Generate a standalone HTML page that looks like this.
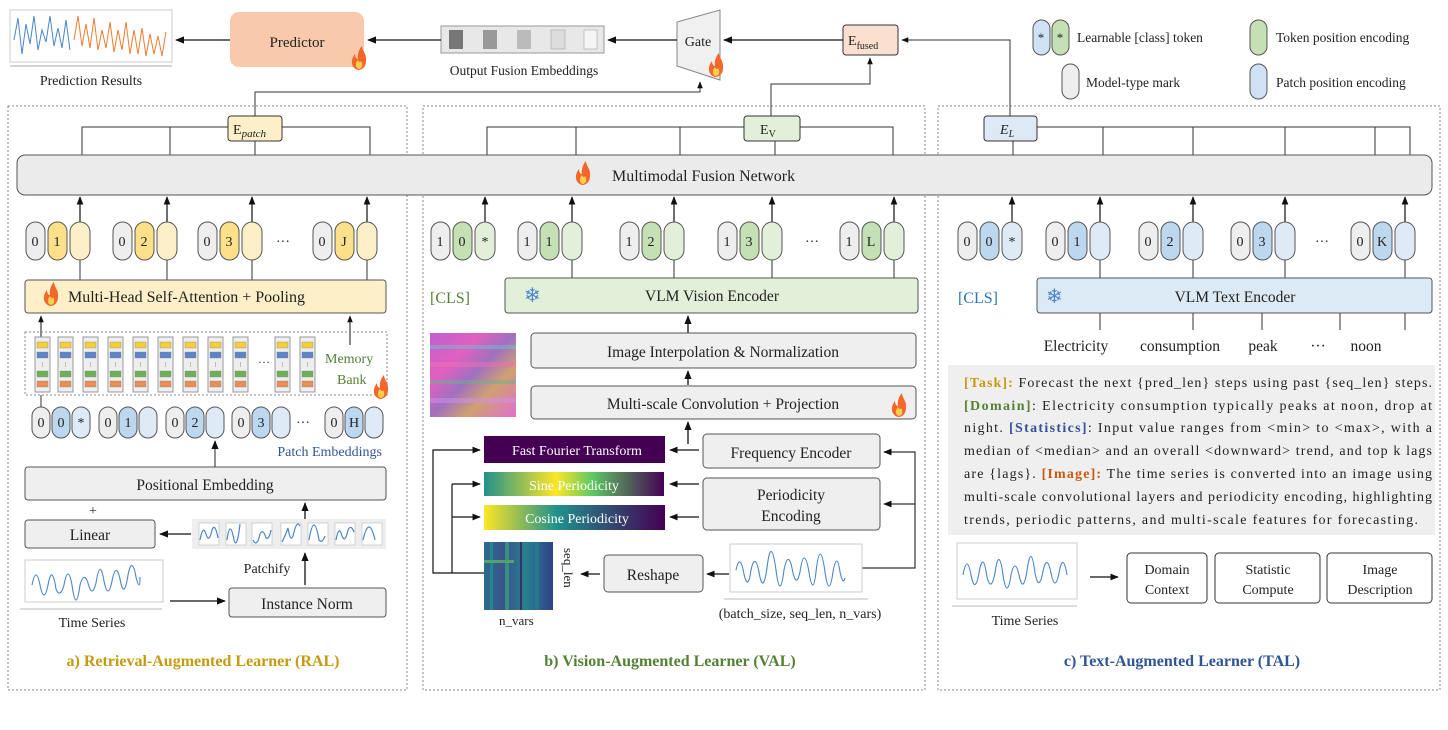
<!DOCTYPE html>
<html><head><meta charset="utf-8"><style>
html,body{margin:0;padding:0;background:#fff}
svg text{font-family:"Liberation Serif",serif;fill:#222}
</style></head><body>
<svg width="1448" height="725" viewBox="0 0 1448 725" xmlns="http://www.w3.org/2000/svg">
<defs>
<marker id="ar" viewBox="0 0 10 10" refX="9" refY="5" markerWidth="7" markerHeight="7" orient="auto-start-reverse"><path d="M0,1 L10,5 L0,9 z" fill="#111"/></marker>
<linearGradient id="sine" x1="0" x2="1"><stop offset="0" stop-color="#21918c"/><stop offset="0.4" stop-color="#fde725"/><stop offset="0.6" stop-color="#5ec962"/><stop offset="1" stop-color="#440154"/></linearGradient>
<linearGradient id="cos" x1="0" x2="1"><stop offset="0" stop-color="#fde725"/><stop offset="0.4" stop-color="#21918c"/><stop offset="1" stop-color="#440154"/></linearGradient>
<linearGradient id="img" x1="0" y1="0" x2="1" y2="1"><stop offset="0" stop-color="#c060d0"/><stop offset="0.3" stop-color="#e060c0"/><stop offset="0.5" stop-color="#a070c0"/><stop offset="0.7" stop-color="#d0a070"/><stop offset="1" stop-color="#e070d0"/></linearGradient>
<linearGradient id="heat" x1="0" x2="1"><stop offset="0" stop-color="#2a6a8e"/><stop offset="0.3" stop-color="#3b528b"/><stop offset="0.6" stop-color="#26828e"/><stop offset="1" stop-color="#31408a"/></linearGradient>
<g id="flame"><path d="M0,14 C-7,12 -8,4 -3,-2 C-3,2 -1,3 0,3 C-1,-3 2,-8 4,-10 C4,-5 9,-2 8,5 C8,11 4,14 0,14 z" fill="#f4662a"/><path d="M1,13 C-3,12 -3,7 0,4 C1,7 3,6 3,5 C5,8 5,12 1,13 z" fill="#fcd04c"/></g>
<g id="col"><rect x="0" y="0" width="15" height="55" fill="#eee" stroke="#999"/><rect x="2" y="5" width="11" height="6" fill="#f6cd3a" stroke="#888" stroke-width=".4"/><rect x="2" y="15" width="11" height="6" fill="#5b84c8" stroke="#888" stroke-width=".4"/><line x1="7.5" y1="25" x2="7.5" y2="30" stroke="#bbb"/><rect x="2" y="34" width="11" height="6" fill="#6faf55" stroke="#888" stroke-width=".4"/><rect x="2" y="44" width="11" height="6" fill="#ec8d55" stroke="#888" stroke-width=".4"/></g>
</defs>

<g fill="none" stroke="#888" stroke-dasharray="2,2" stroke-width="1">
<rect x="8" y="106" width="399" height="584"/>
<rect x="423" y="106" width="502" height="584"/>
<rect x="938" y="106" width="502" height="584"/>
</g>

<rect x="10" y="10" width="162" height="52" fill="#fff" stroke="#ccc"/>
<path d="M14,40 l4,-22 l4,36 l4,-30 l4,20 l4,-28 l4,34 l4,-20 l4,12 l4,-26 l4,30 l4,-18 l4,20 l4,-28 l4,30" fill="none" stroke="#4a86c8" stroke-width="1"/>
<path d="M74,40 l4,-24 l4,30 l4,-22 l4,24 l4,-30 l4,32 l4,-20 l4,18 l4,-26 l4,30 l4,-22 l4,20 l4,-28 l4,32 l4,-24 l4,24 l4,-26 l4,28 l4,-22 l4,20 l4,-18 l4,20 l4,-24" fill="none" stroke="#ed7d31" stroke-width="1"/>
<line x1="10" y1="66" x2="172" y2="66" stroke="#aaa"/>
<text x="91" y="85" font-size="14" text-anchor="middle">Prediction Results</text>
<rect x="230" y="12" width="134" height="55" rx="9" fill="#f8c9aa"/>
<text x="297" y="47" font-size="15" text-anchor="middle">Predictor</text>
<use href="#flame" x="358" y="56"/>
<line x1="230" y1="40" x2="176" y2="40" stroke="#111" stroke-width="1.3" marker-end="url(#ar)"/>
<rect x="441" y="26" width="163" height="27" fill="#e8e8e8" stroke="#999"/>
<rect x="449" y="30" width="14" height="19" fill="#777"/><rect x="483" y="30" width="14" height="19" fill="#999"/><rect x="517" y="30" width="14" height="19" fill="#bbb"/><rect x="551" y="30" width="14" height="19" fill="#ddd" stroke="#999" stroke-width=".5"/><rect x="584" y="30" width="13" height="19" fill="#f5f5f5" stroke="#999" stroke-width=".5"/>
<text x="524" y="75" font-size="13.5" text-anchor="middle">Output Fusion Embeddings</text>
<line x1="441" y1="40" x2="368" y2="40" stroke="#111" stroke-width="1.3" marker-end="url(#ar)"/>
<path d="M677,22 L720,10 L720,80 L677,66 z" fill="#f0f0f0" stroke="#888"/>
<text x="698" y="46" font-size="14" text-anchor="middle">Gate</text>
<use href="#flame" x="715" y="63"/>
<line x1="677" y1="40" x2="608" y2="40" stroke="#111" stroke-width="1.3" marker-end="url(#ar)"/>
<rect x="843" y="25" width="55" height="30" rx="3" fill="#fbe0d0" stroke="#333"/>
<text x="848" y="45" font-size="14">E<tspan font-size="10" dy="4">fused</tspan></text>
<line x1="843" y1="40" x2="724" y2="40" stroke="#111" stroke-width="1.3" marker-end="url(#ar)"/>
<path d="M1010,116 L1010,40 L902,40" fill="none" stroke="#333" marker-end="url(#ar)"/>
<path d="M771,116 L771,84 L870,84 L870,58" fill="none" stroke="#333" marker-end="url(#ar)"/>
<path d="M255,116 L255,92 L700,92 L700,82" fill="none" stroke="#333" marker-end="url(#ar)"/>

<rect x="1033" y="20" width="17" height="35" rx="8.5" fill="#cfe2f3" stroke="#555"/><text x="1041" y="42" font-size="13" text-anchor="middle">*</text>
<rect x="1052" y="20" width="17" height="35" rx="8.5" fill="#c5e0b4" stroke="#555"/><text x="1060" y="42" font-size="13" text-anchor="middle">*</text>
<text x="1077" y="42" font-size="13.5">Learnable [class] token</text>
<rect x="1250" y="20" width="17" height="35" rx="8.5" fill="#c5e0b4" stroke="#555"/>
<text x="1276" y="42" font-size="13.5">Token position encoding</text>
<rect x="1062" y="64" width="17" height="35" rx="8.5" fill="#eee" stroke="#555"/>
<text x="1086" y="87" font-size="13.5">Model-type mark</text>
<rect x="1250" y="64" width="17" height="35" rx="8.5" fill="#cfe2f3" stroke="#555"/>
<text x="1276" y="87" font-size="13.5">Patch position encoding</text>

<g stroke="#333" fill="none" stroke-width="1">
<path d="M82,155 V127 H370 V155 M170,127 V155 M255,127 V155"/>
<path d="M487,155 V127 H893 V155 M576,127 V155 M680,127 V155 M775,127 V155"/>
<path d="M1013,155 V127 H1410 V155 M1103,127 V155 M1193,127 V155 M1285,127 V155 M1375,127 V155"/>
</g>
<rect x="228" y="116" width="54" height="25" rx="3" fill="#fdf0c8" stroke="#333"/>
<text x="233" y="134" font-size="14">E<tspan font-size="11" font-style="italic" dy="3">patch</tspan></text>
<rect x="744" y="116" width="56" height="25" rx="3" fill="#e2efd9" stroke="#333"/>
<text x="760" y="134" font-size="14">E<tspan font-size="10" dy="3">V</tspan></text>
<rect x="984" y="116" width="53" height="25" rx="3" fill="#dde9f5" stroke="#333"/>
<text x="1000" y="134" font-size="14" font-style="italic">E<tspan font-size="10" dy="3">L</tspan></text>

<rect x="17" y="155" width="1415" height="40" rx="8" fill="#ebebeb" stroke="#555"/>
<use href="#flame" x="582" y="171"/>
<text x="612" y="181" font-size="16">Multimodal Fusion Network</text>

<g stroke="#111" stroke-width="1.2" marker-end="url(#ar)">
<line x1="80" y1="222" x2="80" y2="197"/><line x1="167" y1="222" x2="167" y2="197"/><line x1="252" y1="222" x2="252" y2="197"/><line x1="367" y1="222" x2="367" y2="197"/>
<line x1="485" y1="222" x2="485" y2="197"/><line x1="572" y1="222" x2="572" y2="197"/><line x1="674" y1="222" x2="674" y2="197"/><line x1="772" y1="222" x2="772" y2="197"/><line x1="894" y1="222" x2="894" y2="197"/>
<line x1="1012" y1="222" x2="1012" y2="197"/><line x1="1100" y1="222" x2="1100" y2="197"/><line x1="1193" y1="222" x2="1193" y2="197"/><line x1="1285" y1="222" x2="1285" y2="197"/><line x1="1405" y1="222" x2="1405" y2="197"/>
</g>
<g stroke="#333">
<line x1="80" y1="260" x2="80" y2="280"/><line x1="167" y1="260" x2="167" y2="280"/><line x1="252" y1="260" x2="252" y2="280"/><line x1="367" y1="260" x2="367" y2="280"/>
<line x1="572" y1="260" x2="572" y2="278"/><line x1="674" y1="260" x2="674" y2="278"/><line x1="772" y1="260" x2="772" y2="278"/><line x1="894" y1="260" x2="894" y2="278"/>
<line x1="1100" y1="260" x2="1100" y2="278"/><line x1="1193" y1="260" x2="1193" y2="278"/><line x1="1285" y1="260" x2="1285" y2="278"/><line x1="1405" y1="260" x2="1405" y2="278"/>
</g>

<g stroke="#555" font-size="14">
<g fill="#eee"><rect x="26" y="222" width="19" height="38" rx="9.5"/><rect x="113" y="222" width="19" height="38" rx="9.5"/><rect x="198" y="222" width="19" height="38" rx="9.5"/><rect x="313" y="222" width="19" height="38" rx="9.5"/></g>
<g fill="#fde08a"><rect x="48" y="222" width="19" height="38" rx="9.5"/><rect x="135" y="222" width="19" height="38" rx="9.5"/><rect x="220" y="222" width="19" height="38" rx="9.5"/><rect x="335" y="222" width="19" height="38" rx="9.5"/></g>
<g fill="#fdf0c8"><rect x="70" y="222" width="20" height="38" rx="10"/><rect x="157" y="222" width="20" height="38" rx="10"/><rect x="242" y="222" width="20" height="38" rx="10"/><rect x="357" y="222" width="20" height="38" rx="10"/></g>
<g fill="#eee"><rect x="431" y="222" width="19" height="38" rx="9.5"/><rect x="518" y="222" width="19" height="38" rx="9.5"/><rect x="620" y="222" width="19" height="38" rx="9.5"/><rect x="718" y="222" width="19" height="38" rx="9.5"/><rect x="840" y="222" width="19" height="38" rx="9.5"/></g>
<g fill="#c5e0b4"><rect x="453" y="222" width="19" height="38" rx="9.5"/><rect x="540" y="222" width="19" height="38" rx="9.5"/><rect x="642" y="222" width="19" height="38" rx="9.5"/><rect x="740" y="222" width="19" height="38" rx="9.5"/><rect x="862" y="222" width="19" height="38" rx="9.5"/></g>
<g fill="#e2efd9"><rect x="475" y="222" width="20" height="38" rx="10"/><rect x="562" y="222" width="20" height="38" rx="10"/><rect x="664" y="222" width="20" height="38" rx="10"/><rect x="762" y="222" width="20" height="38" rx="10"/><rect x="884" y="222" width="20" height="38" rx="10"/></g>
<g fill="#eee"><rect x="958" y="222" width="19" height="38" rx="9.5"/><rect x="1046" y="222" width="19" height="38" rx="9.5"/><rect x="1139" y="222" width="19" height="38" rx="9.5"/><rect x="1231" y="222" width="19" height="38" rx="9.5"/><rect x="1351" y="222" width="19" height="38" rx="9.5"/></g>
<g fill="#bdd7ee"><rect x="980" y="222" width="19" height="38" rx="9.5"/><rect x="1068" y="222" width="19" height="38" rx="9.5"/><rect x="1161" y="222" width="19" height="38" rx="9.5"/><rect x="1253" y="222" width="19" height="38" rx="9.5"/><rect x="1373" y="222" width="19" height="38" rx="9.5"/></g>
<g fill="#deebf7"><rect x="1002" y="222" width="20" height="38" rx="10"/><rect x="1090" y="222" width="20" height="38" rx="10"/><rect x="1183" y="222" width="20" height="38" rx="10"/><rect x="1275" y="222" width="20" height="38" rx="10"/><rect x="1395" y="222" width="20" height="38" rx="10"/></g>
</g>
<g font-size="14" text-anchor="middle">
<text x="35" y="246">0</text><text x="57" y="246">1</text><text x="122" y="246">0</text><text x="144" y="246">2</text><text x="207" y="246">0</text><text x="229" y="246">3</text><text x="283" y="246">···</text><text x="322" y="246">0</text><text x="344" y="246">J</text>
<text x="440" y="246">1</text><text x="462" y="246">0</text><text x="485" y="246">*</text><text x="527" y="246">1</text><text x="549" y="246">1</text><text x="629" y="246">1</text><text x="651" y="246">2</text><text x="727" y="246">1</text><text x="749" y="246">3</text><text x="812" y="246">···</text><text x="849" y="246">1</text><text x="871" y="246">L</text>
<text x="967" y="246">0</text><text x="989" y="246">0</text><text x="1012" y="246">*</text><text x="1055" y="246">0</text><text x="1077" y="246">1</text><text x="1148" y="246">0</text><text x="1170" y="246">2</text><text x="1240" y="246">0</text><text x="1262" y="246">3</text><text x="1322" y="246">···</text><text x="1360" y="246">0</text><text x="1382" y="246">K</text>
</g>

<rect x="25" y="280" width="361" height="33" rx="3" fill="#fdf0c8" stroke="#555"/>
<use href="#flame" x="50" y="292"/>
<text x="68" y="302" font-size="16">Multi-Head Self-Attention + Pooling</text>
<line x1="41" y1="338" x2="41" y2="316" stroke="#111" marker-end="url(#ar)"/>
<line x1="350" y1="345" x2="350" y2="316" stroke="#111" marker-end="url(#ar)"/>
<rect x="25" y="332" width="362" height="63" fill="none" stroke="#888" stroke-dasharray="2,2"/>
<use href="#col" x="35" y="337"/><use href="#col" x="58" y="337"/><use href="#col" x="83" y="337"/><use href="#col" x="108" y="337"/><use href="#col" x="133" y="337"/><use href="#col" x="158" y="337"/><use href="#col" x="183" y="337"/><use href="#col" x="208" y="337"/><use href="#col" x="233" y="337"/><use href="#col" x="275" y="337"/><use href="#col" x="300" y="337"/>
<text x="258" y="366" font-size="12">···</text>
<text x="325" y="363" font-size="14" style="fill:#548235">Memory</text>
<text x="337" y="384" font-size="14" style="fill:#548235">Bank</text>
<use href="#flame" x="380" y="385"/>
<line x1="41" y1="395" x2="41" y2="408" stroke="#333"/>
<g stroke="#555">
<g fill="#eee"><rect x="32" y="407" width="18" height="31" rx="9"/><rect x="99" y="407" width="18" height="31" rx="9"/><rect x="166" y="407" width="18" height="31" rx="9"/><rect x="232" y="407" width="18" height="31" rx="9"/><rect x="325" y="407" width="18" height="31" rx="9"/></g>
<g fill="#bdd7ee"><rect x="52" y="407" width="18" height="31" rx="9"/><rect x="119" y="407" width="18" height="31" rx="9"/><rect x="186" y="407" width="18" height="31" rx="9"/><rect x="252" y="407" width="18" height="31" rx="9"/><rect x="345" y="407" width="18" height="31" rx="9"/></g>
<g fill="#deebf7"><rect x="72" y="407" width="18" height="31" rx="9"/><rect x="139" y="407" width="18" height="31" rx="9"/><rect x="206" y="407" width="18" height="31" rx="9"/><rect x="272" y="407" width="18" height="31" rx="9"/><rect x="365" y="407" width="18" height="31" rx="9"/></g>
</g>
<g font-size="14" text-anchor="middle">
<text x="41" y="427">0</text><text x="61" y="427">0</text><text x="81" y="427">*</text><text x="108" y="427">0</text><text x="128" y="427">1</text><text x="175" y="427">0</text><text x="195" y="427">2</text><text x="241" y="427">0</text><text x="261" y="427">3</text><text x="303" y="427">···</text><text x="334" y="427">0</text><text x="354" y="427">H</text>
</g>
<text x="382" y="456" font-size="14" text-anchor="end" style="fill:#2f5597">Patch Embeddings</text>
<line x1="215" y1="467" x2="215" y2="441" stroke="#555" stroke-width="1.3" marker-end="url(#ar)"/>
<rect x="25" y="467" width="361" height="33" rx="3" fill="#efefef" stroke="#555"/>
<text x="205" y="490" font-size="15.5" text-anchor="middle">Positional Embedding</text>
<text x="93" y="515" font-size="14" text-anchor="middle">+</text>
<rect x="25" y="520" width="130" height="28" rx="3" fill="#efefef" stroke="#555"/>
<text x="90" y="540" font-size="15.5" text-anchor="middle">Linear</text>
<rect x="192" y="519" width="194" height="30" fill="#eee"/>
<g fill="#fff" stroke="#bbb" stroke-width=".6">
<rect x="199" y="523" width="20" height="22"/><rect x="226" y="523" width="20" height="22"/><rect x="252" y="523" width="20" height="22"/><rect x="281" y="523" width="20" height="22"/><rect x="308" y="523" width="20" height="22"/><rect x="335" y="523" width="20" height="22"/><rect x="362" y="523" width="20" height="22"/>
</g>
<g fill="none" stroke="#4a86c8" stroke-width="1.2">
<path d="M200,540 q3,-16 6,-6 q3,10 6,-4 q3,-8 6,8"/><path d="M227,540 q3,-22 7,0 q3,10 6,-16"/><path d="M253,540 q4,8 7,-6 q3,-6 6,4 q3,2 5,-8"/><path d="M282,542 q4,-8 6,-14 q3,18 6,4 q3,-12 6,-6"/><path d="M309,540 q5,-30 10,0 q3,4 6,-4"/><path d="M336,540 q3,-16 6,-4 q3,8 6,-6 q3,-6 6,2"/><path d="M363,540 q6,-26 12,0"/>
</g>
<line x1="191" y1="534" x2="160" y2="534" stroke="#111" stroke-width="1.3" marker-end="url(#ar)"/>
<line x1="305" y1="519" x2="305" y2="503" stroke="#111" stroke-width="1.3" marker-end="url(#ar)"/>
<text x="267" y="573" font-size="14" text-anchor="middle">Patchify</text>
<line x1="305" y1="585" x2="305" y2="553" stroke="#111" stroke-width="1.3" marker-end="url(#ar)"/>
<rect x="25" y="560" width="138" height="42" fill="#fff" stroke="#ccc"/>
<path d="M32,585 q4,-20 8,0 t8,0 q4,-22 8,4 q4,10 8,-4 q4,-22 8,0 q4,30 8,0 q4,-14 8,-2 q4,16 8,0 q4,-26 8,-2 q4,20 8,0 q4,-20 8,-2 q4,22 8,-4 q4,-20 8,2 q4,16 4,0" fill="none" stroke="#4a86c8" stroke-width="1.1"/>
<line x1="20" y1="609" x2="162" y2="609" stroke="#bbb"/>
<text x="92" y="627" font-size="14" text-anchor="middle">Time Series</text>
<line x1="170" y1="601" x2="225" y2="601" stroke="#111" stroke-width="1.3" marker-end="url(#ar)"/>
<rect x="229" y="588" width="157" height="29" rx="3" fill="#efefef" stroke="#555"/>
<text x="307" y="609" font-size="15.5" text-anchor="middle">Instance Norm</text>
<text x="203" y="666" font-size="16" font-weight="bold" text-anchor="middle" style="fill:#c59a10">a) Retrieval-Augmented Learner (RAL)</text>

<text x="430" y="303" font-size="16" style="fill:#548235">[CLS]</text>
<rect x="505" y="278" width="413" height="35" rx="3" fill="#e2efd9" stroke="#555"/>
<text x="524" y="302" font-size="20" style="fill:#4a86c8">❄</text>
<text x="712" y="301" font-size="15.5" text-anchor="middle">VLM Vision Encoder</text>
<line x1="688" y1="333" x2="688" y2="316" stroke="#111" stroke-width="1.3" marker-end="url(#ar)"/>
<rect x="430" y="333" width="86" height="84" fill="url(#img)"/>
<g opacity="0.5"><rect x="430" y="345" width="86" height="4" fill="#6ec0d0"/><rect x="430" y="362" width="86" height="5" fill="#f070b0"/><rect x="430" y="380" width="86" height="4" fill="#70b090"/><rect x="430" y="398" width="86" height="5" fill="#d090f0"/></g>
<rect x="531" y="333" width="385" height="35" rx="4" fill="#efefef" stroke="#555"/>
<text x="723" y="357" font-size="15.5" text-anchor="middle">Image Interpolation &amp; Normalization</text>
<line x1="688" y1="385" x2="688" y2="371" stroke="#111" stroke-width="1.3" marker-end="url(#ar)"/>
<rect x="531" y="386" width="385" height="33" rx="4" fill="#efefef" stroke="#555"/>
<text x="723" y="409" font-size="15.5" text-anchor="middle">Multi-scale Convolution + Projection</text>
<use href="#flame" x="898" y="403"/>
<line x1="688" y1="444" x2="688" y2="422" stroke="#111" stroke-width="1.3" marker-end="url(#ar)"/>
<rect x="484" y="436" width="181" height="27" fill="#440154"/>
<text x="577" y="455" font-size="14" text-anchor="middle" style="fill:#fff">Fast Fourier Transform</text>
<rect x="484" y="472" width="180" height="24" fill="url(#sine)"/>
<text x="574" y="490" font-size="14" text-anchor="middle" style="fill:#fff">Sine Periodicity</text>
<rect x="484" y="505" width="181" height="25" fill="url(#cos)"/>
<text x="577" y="523" font-size="14" text-anchor="middle" style="fill:#fff">Cosine Periodicity</text>
<g stroke="#111" stroke-width="1.2" marker-end="url(#ar)">
<line x1="699" y1="450" x2="670" y2="450"/><line x1="699" y1="484" x2="670" y2="484"/><line x1="699" y1="517" x2="670" y2="517"/>
</g>
<rect x="703" y="434" width="177" height="34" rx="4" fill="#efefef" stroke="#555"/>
<text x="791" y="458" font-size="15.5" text-anchor="middle">Frequency Encoder</text>
<rect x="703" y="478" width="177" height="52" rx="4" fill="#efefef" stroke="#555"/>
<text x="791" y="500" font-size="15.5" text-anchor="middle">Periodicity</text>
<text x="791" y="521" font-size="15.5" text-anchor="middle">Encoding</text>
<path d="M862,568 H915 V452 H884" fill="none" stroke="#333" stroke-width="1.2" marker-end="url(#ar)"/>
<line x1="915" y1="504" x2="884" y2="504" stroke="#333" stroke-width="1.2" marker-end="url(#ar)"/>
<rect x="484" y="542" width="69" height="68" fill="url(#heat)"/>
<g opacity="0.6"><rect x="490" y="542" width="3" height="68" fill="#1f9e89"/><rect x="505" y="542" width="4" height="68" fill="#35b779"/><rect x="520" y="542" width="2" height="68" fill="#440154"/><rect x="535" y="542" width="4" height="68" fill="#26828e"/><rect x="484" y="560" width="30" height="3" fill="#6ece58"/></g>
<path d="M484,573 H433 V450 H480" fill="none" stroke="#111" stroke-width="1.2" marker-end="url(#ar)"/>
<path d="M452,573 V484" fill="none" stroke="#111" stroke-width="1.2"/>
<line x1="452" y1="517" x2="480" y2="517" stroke="#111" stroke-width="1.2" marker-end="url(#ar)"/>
<line x1="452" y1="484" x2="480" y2="484" stroke="#111" stroke-width="1.2" marker-end="url(#ar)"/>
<text x="564" y="548" font-size="13" transform="rotate(90 564 548)">seq_len</text>
<text x="499" y="625" font-size="13">n_vars</text>
<line x1="600" y1="574" x2="581" y2="574" stroke="#111" stroke-width="1.2" marker-end="url(#ar)"/>
<rect x="604" y="555" width="99" height="37" rx="4" fill="#efefef" stroke="#555"/>
<text x="653" y="580" font-size="15.5" text-anchor="middle">Reshape</text>
<line x1="729" y1="574" x2="707" y2="574" stroke="#111" stroke-width="1.2" marker-end="url(#ar)"/>
<rect x="730" y="544" width="132" height="48" fill="#fff" stroke="#ccc"/>
<path d="M736,570 q4,-18 8,4 q4,18 7,-4 q4,-18 8,2 q4,24 8,-4 q4,-34 9,2 q4,32 8,0 q4,-20 8,-2 q4,22 8,4 q4,-28 9,0 q4,26 7,0 q4,-36 9,0 q4,28 8,0 q4,-22 7,0 q3,14 5,6" fill="none" stroke="#4a86c8" stroke-width="1.1"/>
<line x1="724" y1="599" x2="868" y2="599" stroke="#bbb"/>
<text x="800" y="618" font-size="14" text-anchor="middle">(batch_size, seq_len, n_vars)</text>
<text x="670" y="666" font-size="16" font-weight="bold" text-anchor="middle" style="fill:#548235">b) Vision-Augmented Learner (VAL)</text>

<text x="958" y="303" font-size="16" style="fill:#2e75b6">[CLS]</text>
<rect x="1037" y="278" width="395" height="35" rx="3" fill="#dceaf5" stroke="#555"/>
<text x="1046" y="303" font-size="20" style="fill:#4a86c8">❄</text>
<text x="1235" y="302" font-size="15.5" text-anchor="middle">VLM Text Encoder</text>
<g stroke="#333"><line x1="1100" y1="313" x2="1100" y2="330"/><line x1="1193" y1="313" x2="1193" y2="330"/><line x1="1262" y1="313" x2="1262" y2="330"/><line x1="1340" y1="313" x2="1340" y2="330"/><line x1="1405" y1="313" x2="1405" y2="330"/></g>
<g font-size="15.5" text-anchor="middle"><text x="1076" y="351">Electricity</text><text x="1180" y="351">consumption</text><text x="1263" y="351">peak</text><text x="1318" y="351">···</text><text x="1366" y="351">noon</text></g>
<rect x="948" y="365" width="487" height="170" fill="#efefef"/>
<g font-size="14">
<text x="964" y="387" textLength="468" lengthAdjust="spacing"><tspan font-weight="bold" style="fill:#c59a10">[Task]:</tspan> Forecast the next {pred_len} steps using past {seq_len} steps.</text>
<text x="964" y="410" textLength="468" lengthAdjust="spacing"><tspan font-weight="bold" style="fill:#548235">[Domain]</tspan>: Electricity consumption typically peaks at noon, drop at</text>
<text x="964" y="432" textLength="468" lengthAdjust="spacing">night. <tspan font-weight="bold" style="fill:#2f5597">[Statistics]</tspan>: Input value ranges from &lt;min&gt; to &lt;max&gt;, with a</text>
<text x="964" y="455" textLength="468" lengthAdjust="spacing">median of &lt;median&gt; and an overall &lt;downward&gt; trend, and top k lags</text>
<text x="964" y="478" textLength="468" lengthAdjust="spacing">are {lags}. <tspan font-weight="bold" style="fill:#c55a11">[Image]:</tspan> The time series is converted into an image using</text>
<text x="964" y="501" textLength="468" lengthAdjust="spacing">multi-scale convolutional layers and periodicity encoding, highlighting</text>
<text x="964" y="524" textLength="454" lengthAdjust="spacing">trends, periodic patterns, and multi-scale features for forecasting.</text>
</g>
<rect x="957" y="543" width="120" height="56" fill="#fff" stroke="#ccc"/>
<path d="M963,575 q4,-22 8,0 q4,20 8,-2 q4,-24 8,4 q4,16 8,-4 q4,-28 8,2 q4,26 8,0 q4,-18 8,0 q4,20 8,-4 q4,-30 8,2 q4,20 8,-2 q4,-18 8,2 q4,20 8,0 q4,-22 8,2" fill="none" stroke="#4a86c8" stroke-width="1.1"/>
<line x1="952" y1="606" x2="1077" y2="606" stroke="#bbb"/>
<text x="1025" y="625" font-size="14" text-anchor="middle">Time Series</text>
<line x1="1090" y1="577" x2="1118" y2="577" stroke="#111" stroke-width="1.2" marker-end="url(#ar)"/>
<rect x="1127" y="553" width="80" height="50" rx="4" fill="#fff" stroke="#333"/>
<text x="1167" y="574" font-size="14" text-anchor="middle">Domain</text><text x="1167" y="594" font-size="14" text-anchor="middle">Context</text>
<rect x="1215" y="553" width="105" height="50" rx="4" fill="#fff" stroke="#333"/>
<text x="1268" y="574" font-size="14" text-anchor="middle">Statistic</text><text x="1268" y="594" font-size="14" text-anchor="middle">Compute</text>
<rect x="1327" y="553" width="105" height="50" rx="4" fill="#fff" stroke="#333"/>
<text x="1380" y="574" font-size="14" text-anchor="middle">Image</text><text x="1380" y="594" font-size="14" text-anchor="middle">Description</text>
<text x="1182" y="666" font-size="16" font-weight="bold" text-anchor="middle" style="fill:#2f5597">c) Text-Augmented Learner (TAL)</text>
</svg>
</body></html>
